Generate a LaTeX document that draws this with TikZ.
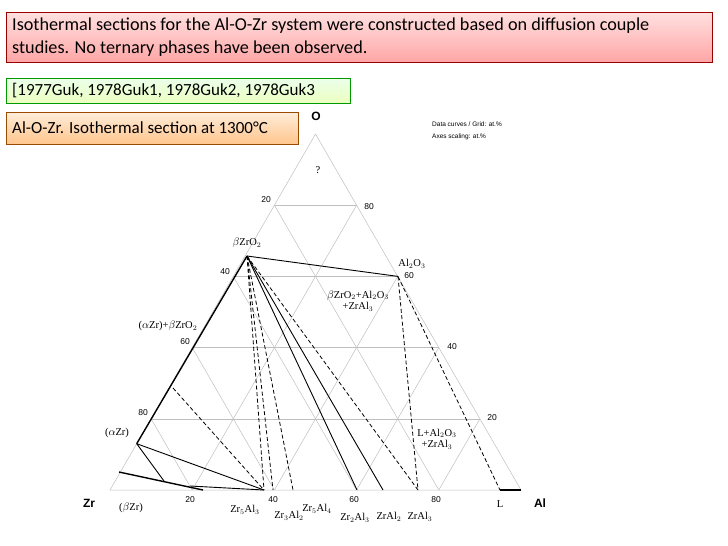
\documentclass[tikz,border=0pt]{standalone}
\usepackage{fontspec}
\setmainfont{Liberation Serif}
\newfontfamily\calfont{Carlito}
\newfontfamily\arl{Liberation Sans}
\begin{document}
\begin{tikzpicture}[x=1pt,y=-1pt,
  grid/.style={draw=gray!50,line width=0.5pt},
  ph/.style={line width=0.9pt},
  dsh/.style={line width=0.8pt,dash pattern=on 4pt off 2.5pt},
  lab/.style={font=\fontsize{10.5}{11.5}\selectfont,inner sep=0.5pt},
  num/.style={font=\arl\fontsize{8.5}{9}\selectfont,inner sep=0.5pt},
  box/.style={draw=#1!60!black,line width=0.5pt,anchor=north west,inner sep=0pt}]
\useasboundingbox (0,0) rectangle (728,546);
% boxes
\node[box=red,top color=red!12,bottom color=red!35,minimum width=706pt,minimum height=50pt] (b1) at (6,12) {};
\node[anchor=north west,font=\calfont\fontsize{18.2}{23}\selectfont,align=left,inner sep=0pt] (t1) at (12,18) {Isothermal sections for the Al-O-Zr system were constructed based on diffusion couple\\studies. No ternary phases have been observed.};
\node[box=green,top color=green!8,bottom color=green!30!yellow!25,minimum width=344pt,minimum height=25pt] (b2) at (6,78) {};
\node[anchor=west,font=\calfont\fontsize{17}{20}\selectfont,inner sep=0pt] (t2) at (12,91) {[1977Guk, 1978Guk1, 1978Guk2, 1978Guk3};
\node[box=orange,top color=orange!15,bottom color=orange!45,minimum width=292pt,minimum height=32pt] (b3) at (6,112) {};
\node[anchor=west,font=\calfont\fontsize{17}{20}\selectfont,inner sep=0pt] (t3) at (12,128) {Al-O-Zr. Isothermal section at 1300°C};
% grid
\foreach \a in {0.2,0.4,0.6,0.8}{
  \draw[grid] ({110+205.5*\a},{490-356*\a}) -- ({521-205.5*\a},{490-356*\a});
  \draw[grid] ({110+411*\a},490) -- ({110+205.5*\a},{490-356*\a});
  \draw[grid] ({110+411*\a},490) -- ({110+205.5*(1+\a)},{490-356*(1-\a)});
}
\coordinate (Zr) at (110,490); \coordinate (Al) at (521,490); \coordinate (O) at (315.5,134);
\draw[grid] (Zr) -- (Al) -- (O) -- cycle;
% phases
\coordinate (bz) at (247,256);
\coordinate (ao) at (398,276.4);
\coordinate (az) at (136.7,443.7);
\coordinate (p1) at (119,472); \coordinate (p2) at (203,490);
\coordinate (p3) at (164,481); \coordinate (p4) at (190,486);
\coordinate (z53) at (264,490); \coordinate (z32) at (273,490);
\coordinate (z54) at (293,490); \coordinate (z23) at (357,490);
\coordinate (za2) at (383,490); \coordinate (za3) at (418,490);
\coordinate (lp) at (500,490); \coordinate (eq) at (173,388);
\draw[line width=1.4pt] (az) -- (bz);
\draw[line width=1.4pt] (p1) -- (p2);
\draw[line width=1.4pt] (lp) -- (Al);
\draw[ph] (bz) -- (ao);
\draw[ph] (az) -- (z53);
\draw[ph] (az) -- (p3);
\draw[ph] (p4) -- (z53);
\draw[ph] (bz) -- (z23);
\draw[ph] (bz) -- (za2);
\draw[dsh] (eq) -- (z53);
\draw[dsh] (bz) -- (z53);
\draw[dsh] (bz) -- (z32);
\draw[dsh] (bz) -- (z54);
\draw[dsh] (bz) -- (za3);
\draw[dsh] (ao) -- (za3);
\draw[dsh] (ao) -- (lp);
% numbers
\node[num] (n1) at (266,200) {20};
\node[num] (n2) at (225,272) {40};
\node[num] (n3) at (185,342) {60};
\node[num] (n4) at (143,413) {80};
\node[num] (n5) at (369,207) {80};
\node[num] (n6) at (409,276) {60};
\node[num] (n7) at (452,347) {40};
\node[num] (n8) at (492,418) {20};
\node[num] (n9) at (190,500) {20};
\node[num] (n10) at (273,500) {40};
\node[num] (n11) at (354,500) {60};
\node[num] (n12) at (436,500) {80};
\node[lab] (q) at (318,170) {?};
% labels
\node[lab] (l1) at (247,243) {$\beta$ZrO$_2$};
\node[lab] (l2) at (412,264) {Al$_2$O$_3$};
\node[lab,align=center] (l3) at (358,301) {$\beta$ZrO$_2$+Al$_2$O$_3$\\+ZrAl$_3$};
\node[lab] (l4) at (168,326) {($\alpha$Zr)+$\beta$ZrO$_2$};
\node[lab] (l5) at (117,433) {($\alpha$Zr)};
\node[lab] (l6) at (131,508) {($\beta$Zr)};
\node[lab] (l7) at (245,510) {Zr$_5$Al$_3$};
\node[lab] (l8) at (289,516) {Zr$_3$Al$_2$};
\node[lab] (l9) at (317,509) {Zr$_5$Al$_4$};
\node[lab] (l10) at (355,518) {Zr$_2$Al$_3$};
\node[lab] (l11) at (389,517) {ZrAl$_2$};
\node[lab] (l12) at (420,517) {ZrAl$_3$};
\node[lab] (l13) at (500,504) {L};
\node[lab,align=center] (l14) at (437,439) {L+Al$_2$O$_3$\\+ZrAl$_3$};
\node[font=\arl\bfseries\fontsize{12}{12}\selectfont] (cO) at (316,116) {O};
\node[font=\arl\bfseries\fontsize{12}{12}\selectfont] (cZr) at (89,503) {Zr};
\node[font=\arl\bfseries\fontsize{12}{12}\selectfont] (cAl) at (540,503) {Al};
\node[anchor=west,font=\arl\fontsize{6.5}{7}\selectfont,inner sep=0pt] (d1) at (432,124) {Data curves / Grid: at.\%};
\node[anchor=west,font=\arl\fontsize{6.5}{7}\selectfont,inner sep=0pt] (d2) at (432,137) {Axes scaling: at.\%};
\end{tikzpicture}
\end{document}
